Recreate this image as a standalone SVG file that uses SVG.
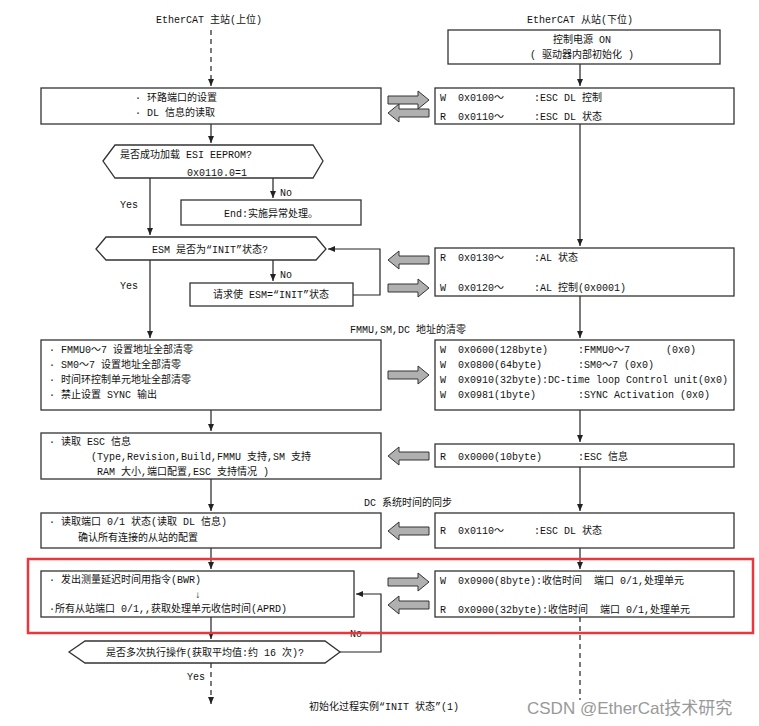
<svg xmlns="http://www.w3.org/2000/svg" width="759" height="726" viewBox="0 0 759 726" xml:space="preserve">
<style>
text{font-family:"Liberation Mono","Noto Sans CJK SC",monospace;font-size:10px;fill:#111;white-space:pre}
.m{text-anchor:middle}
.b{fill:#fff;stroke:#333;stroke-width:1.3}
.l{fill:none;stroke:#222;stroke-width:1.2}
.d{fill:none;stroke:#222;stroke-width:1.2;stroke-dasharray:5,4}
.ba{fill:#b0b0b0;stroke:#333;stroke-width:1}
</style>
<defs>
<marker id="ah" markerWidth="8" markerHeight="8" refX="7" refY="4" orient="auto" markerUnits="userSpaceOnUse"><path d="M0,1 L7,4 L0,7 Z" fill="#222"/></marker>
<path id="ra" d="M0,-4 H30 V-9 L41,0 L30,9 V4 H0 Z"/>
<path id="la" d="M41,-4 H11 V-9 L0,0 L11,9 V4 H41 Z"/>
</defs>
<text class="m" x="209" y="23">EtherCAT 主站(上位)</text>
<text class="m" x="580" y="23">EtherCAT 从站(下位)</text>
<g id="connectors">
<path class="d" d="M211,30 V86" marker-end="url(#ah)"/>
<path class="l" d="M580,64 V86" marker-end="url(#ah)"/>
<path class="l" d="M211,124 V143" marker-end="url(#ah)"/>
<path class="l" d="M580,124 V246" marker-end="url(#ah)"/>
<path class="l" d="M273,178 V198" marker-end="url(#ah)"/>
<path class="l" d="M150,178 V235" marker-end="url(#ah)"/>
<path class="l" d="M273,260 V281" marker-end="url(#ah)"/>
<path class="l" d="M353,295 H380 V249 H328" marker-end="url(#ah)"/>
<path class="l" d="M150,260 V338" marker-end="url(#ah)"/>
<path class="l" d="M580,296 V338" marker-end="url(#ah)"/>
<path class="l" d="M211,410 V431" marker-end="url(#ah)"/>
<path class="l" d="M580,410 V442" marker-end="url(#ah)"/>
<path class="l" d="M211,479 V511" marker-end="url(#ah)"/>
<path class="l" d="M580,467 V511" marker-end="url(#ah)"/>
<path class="l" d="M211,548 V569" marker-end="url(#ah)"/>
<path class="l" d="M580,548 V569" marker-end="url(#ah)"/>
<path class="l" d="M211,617 V639" marker-end="url(#ah)"/>
<path class="l" d="M340,652 H381 V594 H356" marker-end="url(#ah)"/>
<path class="d" d="M211,663 V704" marker-end="url(#ah)"/>
<path class="d" d="M580,617 V700"/>
<use href="#ra" class="ba" x="388" y="100"/>
<use href="#la" class="ba" x="388" y="113"/>
<use href="#la" class="ba" x="388" y="260"/>
<use href="#ra" class="ba" x="388" y="288"/>
<use href="#ra" class="ba" x="388" y="375"/>
<use href="#la" class="ba" x="388" y="456"/>
<use href="#la" class="ba" x="388" y="531"/>
<use href="#ra" class="ba" x="388" y="582"/>
<use href="#la" class="ba" x="388" y="605"/>
<text x="280" y="196">No</text>
<text x="120" y="208">Yes</text>
<text x="280" y="278">No</text>
<text x="120" y="289">Yes</text>
<text x="350" y="637">No</text>
<text x="187" y="680">Yes</text>
</g>
<g id="n_slave_top"><rect class="b" x="448" y="30" width="272" height="34"/><text class="m" x="582" y="43">控制电源 ON</text><text class="m" x="582" y="58">( 驱动器内部初始化 )</text></g>
<g id="n_m1"><rect class="b" x="41" y="88" width="340" height="36"/><text x="135" y="101">· 环路端口的设置</text><text x="135" y="116">· DL 信息的读取</text></g>
<g id="n_s1"><rect class="b" x="435" y="88" width="299" height="36"/><text x="440" y="101">W  0x0100～     :ESC DL 控制</text><text x="440" y="120">R  0x0110～     :ESC DL 状态</text></g>
<g id="n_h1"><polygon class="b" points="103,161 115,145 313,145 323,161 313,178 115,178"/><text x="120" y="158">是否成功加载 ESI EEPROM?</text><text class="m" x="217" y="176">0x0110.0=1</text></g>
<g id="n_end"><rect class="b" x="181" y="200" width="180" height="25"/><text class="m" x="271" y="217">End:实施异常处理。</text></g>
<g id="n_h2"><polygon class="b" points="96,249 106,237 316,237 326,249 316,260 106,260"/><text class="m" x="210" y="253">ESM 是否为“INIT”状态?</text></g>
<g id="n_req"><rect class="b" x="190" y="283" width="163" height="23"/><text class="m" x="271" y="298">请求使 ESM=“INIT”状态</text></g>
<g id="n_s2"><rect class="b" x="435" y="248" width="299" height="48"/><text x="440" y="261">R  0x0130～     :AL 状态</text><text x="440" y="291">W  0x0120～     :AL 控制(0x0001)</text></g>
<text class="m" x="408" y="333">FMMU,SM,DC 地址的清零</text>
<g id="n_m3"><rect class="b" x="41" y="340" width="340" height="70"/><text x="49" y="353">· FMMU0～7 设置地址全部清零</text><text x="49" y="368">· SM0～7 设置地址全部清零</text><text x="49" y="383">· 时间环控制单元地址全部清零</text><text x="49" y="398">· 禁止设置 SYNC 输出</text></g>
<g id="n_s3"><rect class="b" x="435" y="340" width="299" height="70"/><text x="440" y="353">W  0x0600(128byte)     :FMMU0～7      (0x0)</text><text x="440" y="368">W  0x0800(64byte)      :SM0～7 (0x0)</text><text x="440" y="383">W  0x0910(32byte):DC-time loop Control unit(0x0)</text><text x="440" y="398">W  0x0981(1byte)       :SYNC Activation (0x0)</text></g>
<g id="n_m4"><rect class="b" x="41" y="433" width="340" height="46"/><text x="49" y="445">· 读取 ESC 信息</text><text x="91" y="460">(Type,Revision,Build,FMMU 支持,SM 支持</text><text x="97" y="475">RAM 大小,端口配置,ESC 支持情况 )</text></g>
<g id="n_s4"><rect class="b" x="435" y="444" width="299" height="23"/><text x="440" y="460">R  0x0000(10byte)      :ESC 信息</text></g>
<text class="m" x="408" y="506">DC 系统时间的同步</text>
<g id="n_m5"><rect class="b" x="41" y="513" width="340" height="35"/><text x="49" y="525">· 读取端口 0/1 状态(读取 DL 信息)</text><text x="78" y="541">确认所有连接的从站的配置</text></g>
<g id="n_s5"><rect class="b" x="435" y="513" width="299" height="35"/><text x="440" y="534">R  0x0110～     :ESC DL 状态</text></g>
<g id="n_m6"><rect class="b" x="41" y="571" width="313" height="46"/><text x="49" y="583">· 发出测量延迟时间用指令(BWR)</text><text x="195" y="598">↓</text><text x="49" y="612">·所有从站端口 0/1,,获取处理单元收信时间(APRD)</text></g>
<g id="n_s6"><rect class="b" x="435" y="571" width="299" height="46"/><text x="440" y="584">W  0x0900(8byte):收信时间  端口 0/1,处理单元</text><text x="440" y="613">R  0x0900(32byte):收信时间  端口 0/1,处理单元</text></g>
<g id="n_h3"><polygon class="b" points="69,652 85,641 325,641 340,652 325,663 85,663"/><text class="m" x="205" y="656">是否多次执行操作(获取平均值:约 16 次)?</text></g>
<rect x="28" y="559" width="725" height="74" fill="none" stroke="#e8383d" stroke-width="2.5"/>
<text class="m" x="384" y="710">初始化过程实例“INIT 状态”(1)</text>
<text x="527" y="714" style="font-family:'Liberation Sans','Noto Sans CJK SC',sans-serif;font-size:17px;fill:#999">CSDN @EtherCat技术研究</text>
</svg>
